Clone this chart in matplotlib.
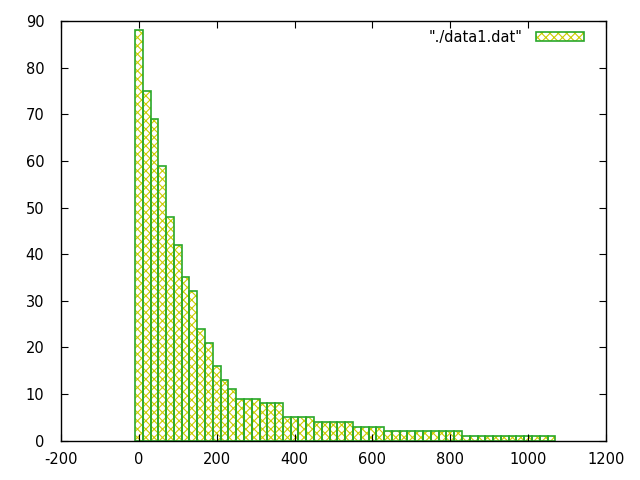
import numpy as np
import matplotlib
matplotlib.use("Agg")
import matplotlib.pyplot as plt
from matplotlib.patches import Patch
from matplotlib.legend_handler import HandlerTuple

#%% histogram data (bin centres, counts)

bin_width = 20
bin_centers = np.arange(0, 1061, bin_width)
counts = [88, 75, 69, 59, 48, 42, 35, 32, 24, 21, 16, 13, 11,
          9, 9, 9, 8, 8, 8, 5, 5, 5, 5,
          4, 4, 4, 4, 4, 3, 3, 3, 3,
          2, 2, 2, 2, 2, 2, 2, 2, 2, 2,
          1, 1, 1, 1, 1, 1, 1, 1, 1, 1, 1, 1]
series_label = '"./data1.dat"'

x_ticks = np.arange(-200, 1201, 200)
y_ticks = np.arange(0, 91, 10)

edge_green = "#2aa82a"
hatch_yellow = "#cccc00"

#%% plot

plt.rcParams["font.family"] = "DejaVu Sans"
plt.rcParams["axes.unicode_minus"] = False
plt.rcParams["hatch.linewidth"] = 0.8

fig = plt.figure(figsize=(6.4, 4.8), dpi=100)
ax = fig.add_axes([61 / 640, 1 - 440.7 / 480, (606 - 61) / 640, (440.7 - 21) / 480])

# hatch layer first (hatch takes the edge colour), then the green outline
ax.bar(bin_centers, counts, bin_width, facecolor="white", edgecolor=hatch_yellow,
       hatch="xxxx", linewidth=0)
ax.bar(bin_centers, counts, bin_width, fill=False, edgecolor=edge_green, linewidth=1.2)

ax.set_xlim(-200, 1200)
ax.set_ylim(0, 90)
ax.set_xticks(x_ticks)
ax.set_yticks(y_ticks)

ax.tick_params(direction="in", length=5, width=0.8, top=True, right=True,
               labelsize=10.5, colors="black")
ax.tick_params(axis="x", pad=8)
ax.tick_params(axis="y", pad=12)
for spine in ax.spines.values():
    spine.set_linewidth(1.0)

# legend sits higher in the gnuplot output, nudge it up
h_fill = Patch(facecolor="white", edgecolor=hatch_yellow, hatch="xxxx", linewidth=0)
h_edge = Patch(fill=False, edgecolor=edge_green, linewidth=1.2)
ax.legend([(h_fill, h_edge)], [series_label],
          handler_map={tuple: HandlerTuple(ndivide=1)},
          loc="upper right", bbox_to_anchor=(1, 1.031), frameon=False, fontsize=10.5,
          handlelength=3.3, handleheight=0.6, handletextpad=0.9,
          markerfirst=False, borderaxespad=1.1)

fig.savefig("out.png", dpi=100)
